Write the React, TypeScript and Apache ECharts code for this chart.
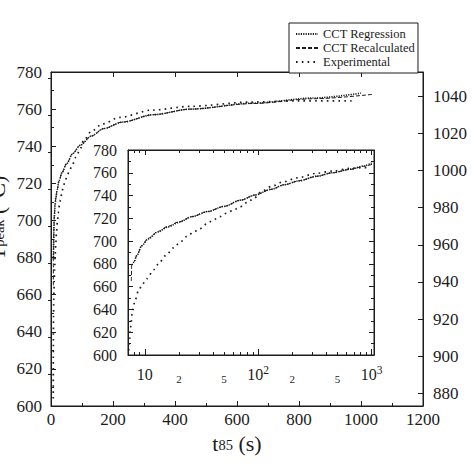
import React, { useEffect, useRef } from "react";
import * as echarts from "echarts";

const SERIF = "Liberation Serif";
const INK = "#1c1c1c";
const KELVIN = 273.15;

// Cooling time t85 (s) and peak temperature (°C) for each curve
const regressionTime = [7.7, 8, 8.5, 9.4, 10.7, 13, 16, 20, 26, 36, 50, 70, 94, 130, 170, 230, 330, 450, 650, 850, 1000];
const regressionTemp = [679, 681.5, 687.5, 696, 702, 708, 712.5, 716.5, 721.5, 726, 730.5, 736, 740.5, 745.5, 749.5, 753, 757, 760, 763.2, 766, 768.6];

const recalculatedTime = [7.6, 7.65, 8, 8.5, 9.4, 10.7, 13, 16, 20, 26, 36, 50, 70, 94, 130, 170, 230, 330, 450, 650, 850, 1040];
const recalculatedTemp = [665, 679, 681.5, 687.5, 696, 702.5, 708.5, 713, 717, 721.5, 726, 730.5, 736, 740.5, 745.5, 749.5, 753, 757, 760, 763, 765.6, 768];

const experimentalTime = [7.2, 7.3, 7.5, 7.75, 8.2, 8.75, 9.5, 10.4, 12, 13.6, 15.5, 17.8, 20.5, 23.4, 27, 30.6, 35, 40, 46, 52.6, 60, 69, 80, 93, 105, 130, 166, 220, 327, 450, 644, 800, 975];
const experimentalTemp = [604, 612, 625, 638, 648, 656, 662, 667, 675, 682, 688, 694, 699, 704, 708, 711, 715, 718.5, 721.5, 724.5, 727, 730, 734, 738, 743, 748, 752, 755.5, 759.5, 761.5, 763.8, 764.4, 764.4];

// Axis ticks
const kelvinMajor = [880, 900, 920, 940, 960, 980, 1000, 1020, 1040];
const kelvinMinor = [890, 910, 930, 950, 970, 990, 1010, 1030, 1050];
const logMajor = [10, 100, 1000];
const logMinor = [8, 9, 20, 30, 40, 50, 60, 70, 80, 90, 200, 300, 400, 500, 600, 700, 800, 900];
const logLabels = [10, 20, 50, 100, 200, 500, 1000];

const curves = [
  { name: "CCT Regression", time: regressionTime, temp: regressionTemp, dash: [1.2, 1.2], width: 1.6 },
  { name: "CCT Recalculated", time: recalculatedTime, temp: recalculatedTemp, dash: [4, 2], width: 1 },
  { name: "Experimental", time: experimentalTime, temp: experimentalTemp, dash: [1.6, 4.2], width: 1.7 },
];

const zip = (a: number[], b: number[]) => a.map((v, i) => [v, b[i]]);

const labelFont = { fontFamily: SERIF, color: INK };
const plain = (v: number) => String(Math.round(v));

function logLabel(v: number): string {
  if (v === 10) return "{m|10}";
  if (v === 100) return "{m|10}{s|2}";
  if (v === 1000) return "{m|10}{s|3}";
  return "{n|" + String(v).charAt(0) + "}";
}

function buildOption(): any {
  const panels = [
    { xAxisIndex: 0, yAxisIndex: 0 },
    { xAxisIndex: 2, yAxisIndex: 3 },
  ];
  const series: any[] = [];
  panels.forEach((p) => {
    curves.forEach((c) => {
      series.push({
        type: "line",
        name: c.name,
        xAxisIndex: p.xAxisIndex,
        yAxisIndex: p.yAxisIndex,
        data: zip(c.time, c.temp),
        symbol: "none",
        showSymbol: false,
        smooth: 0.3,
        smoothMonotone: "x",
        silent: true,
        itemStyle: { color: INK },
        lineStyle: { color: INK, width: c.width, type: c.dash },
      });
    });
  });

  const tickLine = { lineStyle: { color: INK, width: 1 } };
  const axisLine = { show: true, onZero: false, lineStyle: { color: INK, width: 1 } };

  return {
    animation: false,
    backgroundColor: "#fff",
    textStyle: { fontFamily: SERIF, color: INK },
    grid: [
      { left: 51, top: 72, width: 372, height: 334, show: true, borderColor: INK, borderWidth: 1, backgroundColor: "transparent" },
      { left: 128, top: 150, width: 246, height: 205, show: true, borderColor: INK, borderWidth: 1, backgroundColor: "#fff" },
    ],
    legend: {
      orient: "vertical",
      left: 289,
      top: 23,
      padding: [4, 3, 4, 6],
      itemGap: 0,
      itemWidth: 22,
      itemHeight: 10,
      backgroundColor: "#fff",
      borderColor: INK,
      borderWidth: 1,
      borderRadius: 0,
      selectedMode: false,
      itemStyle: { opacity: 0 },
      textStyle: { fontFamily: SERIF, fontSize: 12.5, lineHeight: 14, color: INK },
      data: curves.map((c) => c.name),
    },
    xAxis: [
      {
        gridIndex: 0,
        type: "value",
        position: "bottom",
        min: 0,
        max: 1200,
        interval: 200,
        axisLine,
        axisTick: { inside: true, length: 5, ...tickLine },
        minorTick: { show: true, splitNumber: 2, length: 3, ...tickLine },
        splitLine: { show: false },
        axisLabel: { ...labelFont, fontSize: 17, lineHeight: 17, margin: 5, formatter: plain },
        name: "{t|t}{s|85}{t| (s)}",
        nameLocation: "middle",
        nameGap: 24,
        nameTextStyle: {
          fontFamily: SERIF,
          rich: {
            t: { fontFamily: SERIF, fontSize: 22, color: INK, lineHeight: 20, padding: [0, 0, 5, 0], verticalAlign: "top" },
            s: { fontFamily: SERIF, fontSize: 14.5, color: INK, lineHeight: 14, verticalAlign: "bottom" },
          },
        },
      },
      {
        gridIndex: 0,
        type: "value",
        position: "top",
        min: 0,
        max: 1200,
        interval: 200,
        axisLine,
        axisTick: { inside: true, length: 5, ...tickLine },
        splitLine: { show: false },
        axisLabel: { show: false },
      },
      {
        gridIndex: 1,
        type: "log",
        logBase: 10,
        position: "bottom",
        min: 7.1,
        max: 1050,
        axisLine,
        axisTick: { inside: true, length: 6, customValues: logMajor, ...tickLine },
        splitLine: { show: false },
        axisLabel: {
          fontFamily: SERIF,
          customValues: logLabels,
          margin: 9,
          formatter: (v: number) => logLabel(Math.round(v)),
          rich: {
            m: { fontFamily: SERIF, fontSize: 16, color: INK, lineHeight: 18, padding: [5, 0, 0, 0], verticalAlign: "bottom" },
            s: { fontFamily: SERIF, fontSize: 11.5, color: INK, lineHeight: 11, verticalAlign: "top" },
            n: { fontFamily: SERIF, fontSize: 11, color: INK, lineHeight: 12, padding: [9.5, 0, 0, 0], verticalAlign: "top" },
          },
        },
      },
      {
        gridIndex: 1,
        type: "log",
        logBase: 10,
        position: "bottom",
        min: 7.1,
        max: 1050,
        axisLine: { show: false },
        axisTick: { inside: true, length: 3, customValues: logMinor, ...tickLine },
        splitLine: { show: false },
        axisLabel: { show: false },
      },
      {
        gridIndex: 1,
        type: "log",
        logBase: 10,
        position: "top",
        min: 7.1,
        max: 1050,
        axisLine,
        axisTick: { inside: true, length: 5, customValues: logMajor, ...tickLine },
        splitLine: { show: false },
        axisLabel: { show: false },
      },
      {
        gridIndex: 1,
        type: "log",
        logBase: 10,
        position: "top",
        min: 7.1,
        max: 1050,
        axisLine: { show: false },
        axisTick: { inside: true, length: 3, customValues: logMinor, ...tickLine },
        splitLine: { show: false },
        axisLabel: { show: false },
      },
    ],
    yAxis: [
      {
        gridIndex: 0,
        type: "value",
        position: "left",
        min: 600,
        max: 780,
        interval: 20,
        axisLine,
        axisTick: { inside: true, length: 5, ...tickLine },
        minorTick: { show: true, splitNumber: 2, length: 3, ...tickLine },
        splitLine: { show: false },
        axisLabel: { ...labelFont, fontSize: 17, margin: 9, formatter: plain },
      },
      {
        gridIndex: 0,
        type: "value",
        position: "right",
        min: 600 + KELVIN,
        max: 780 + KELVIN,
        axisLine,
        axisTick: { inside: true, length: 5, customValues: kelvinMajor, ...tickLine },
        splitLine: { show: false },
        axisLabel: { ...labelFont, fontSize: 17, margin: 10, customValues: kelvinMajor, formatter: plain },
      },
      {
        gridIndex: 0,
        type: "value",
        position: "right",
        min: 600 + KELVIN,
        max: 780 + KELVIN,
        axisLine: { show: false },
        axisTick: { inside: true, length: 3, customValues: kelvinMinor, ...tickLine },
        splitLine: { show: false },
        axisLabel: { show: false },
      },
      {
        gridIndex: 1,
        type: "value",
        position: "left",
        min: 600,
        max: 780,
        interval: 20,
        axisLine,
        axisTick: { inside: true, length: 5, ...tickLine },
        minorTick: { show: true, splitNumber: 2, length: 3, ...tickLine },
        splitLine: { show: false },
        axisLabel: { ...labelFont, fontSize: 16, margin: 11, formatter: plain },
      },
      {
        gridIndex: 1,
        type: "value",
        position: "right",
        min: 600,
        max: 780,
        interval: 20,
        axisLine,
        axisTick: { inside: true, length: 5, ...tickLine },
        minorTick: { show: true, splitNumber: 2, length: 3, ...tickLine },
        splitLine: { show: false },
        axisLabel: { show: false },
      },
    ],
    graphic: [
      {
        type: "text",
        x: -4,
        y: 218,
        rotation: Math.PI / 2,
        style: {
          text: "{t|T}{s|peak}{t| (°C)}",
          align: "center",
          verticalAlign: "middle",
          rich: {
            t: { fontFamily: SERIF, fontSize: 22, fill: INK, lineHeight: 20, padding: [0, 0, 5, 0], verticalAlign: "top" },
            s: { fontFamily: SERIF, fontSize: 14.5, fill: INK, lineHeight: 14, verticalAlign: "bottom" },
          },
        },
      },
    ],
    series,
  };
}

export default function App() {
  const ref = useRef<HTMLDivElement>(null);
  useEffect(() => {
    if (!ref.current) return;
    const chart = echarts.init(ref.current, undefined, { renderer: "svg" });
    chart.setOption(buildOption());
    return () => chart.dispose();
  }, []);
  return (
    <div
      ref={ref}
      style={{ position: "fixed", left: 0, top: 0, width: 474, height: 474, background: "#fff" }}
    />
  );
}
